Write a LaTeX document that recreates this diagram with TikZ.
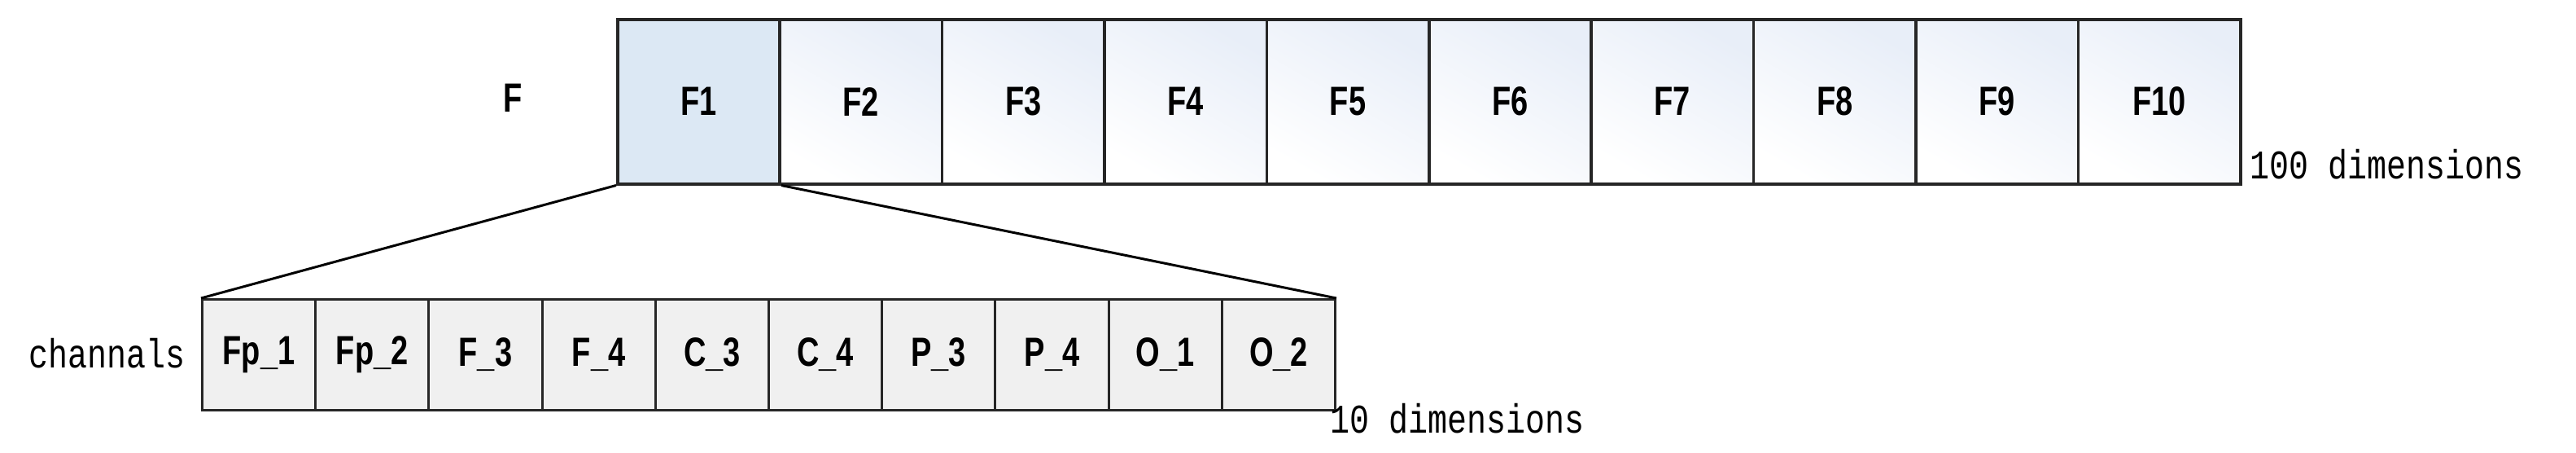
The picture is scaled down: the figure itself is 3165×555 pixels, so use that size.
\documentclass[tikz,border=0pt]{standalone}
\usepackage{fontspec}
\setmainfont{Liberation Sans}
\newfontfamily\monof{Liberation Mono}
\definecolor{fone}{RGB}{220,232,244}
\definecolor{gtop}{RGB}{232,238,248}
\definecolor{bfill}{RGB}{240,240,240}
\begin{document}
\begin{tikzpicture}[x=1pt,y=-1pt,
  topbox/.style={draw=black!85,line width=3.5pt,minimum width=199.4pt,minimum height=202pt,anchor=north west,inner sep=0pt,
    top color=gtop,bottom color=white,shading angle=-30},
  botbox/.style={draw=black!85,line width=3pt,minimum width=139.2pt,minimum height=136pt,anchor=north west,inner sep=0pt,fill=bfill},
  lbl/.style={font=\bfseries\fontsize{50}{50}\selectfont,xscale=0.76},
  mono/.style={font=\monof\fontsize{50}{50}\selectfont,xscale=0.8}]
\useasboundingbox (0,0) rectangle (3165,555);
\node[lbl] (F) at (630,120) {F};
\foreach \i in {1,...,10}{
  \node[topbox] (T\i) at ({757+(\i-1)*199.4},22) {};
  \node[lbl] at (T\i.center) {F\i};
}
\node[topbox,top color=fone,bottom color=fone] (T1) at (757,22) {};
\node[lbl] at (T1.center) {F1};
\foreach [count=\i] \t in {Fp\_1,Fp\_2,F\_3,F\_4,C\_3,C\_4,P\_3,P\_4,O\_1,O\_2}{
  \node[botbox] (B\i) at ({247+(\i-1)*139.2},366) {};
  \node[lbl] at (B\i.center) {\t};
}
\node[mono,anchor=west] (d100) at (2762,202) {100 dimensions};
\node[mono,anchor=east] (ch) at (230,434) {channals};
\node[mono,anchor=west] (d10) at (1632,514) {10 dimensions};
\draw[line width=3pt] (T1.south west) -- (B1.north west);
\draw[line width=3pt] (T1.south east) -- (B10.north east);
\end{tikzpicture}
\end{document}
